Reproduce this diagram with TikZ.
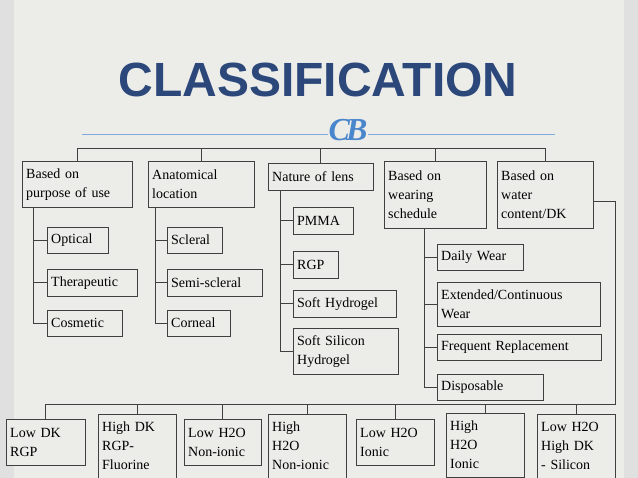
\documentclass[tikz,border=0pt]{standalone}
\usepackage{fontspec}
\setmainfont{Liberation Serif}
\newfontfamily\titlefont{Liberation Sans}
\usetikzlibrary{positioning}
\definecolor{slidebg}{RGB}{236,236,233}
\definecolor{titleblue}{RGB}{44,72,122}
\definecolor{ornblue}{RGB}{74,134,204}
\begin{document}
\begin{tikzpicture}[
    x=1pt, y=-1pt,
    box/.style={draw=black!75, fill=slidebg, anchor=north west, inner sep=4pt,
      align=left, font=\fontsize{14}{19}\selectfont},
    link/.style={draw=black!75, line width=0.9pt}
  ]
  \fill[slidebg] (0,0) rectangle (638,478);
  \fill[black!12] (0,0) rectangle (14,478);
  \fill[black!12] (624,0) rectangle (638,478);
  \useasboundingbox (0,0) rectangle (638,478);
  \clip (0,0) rectangle (638,478);

  % title and ornament
  \node[font=\titlefont\bfseries\fontsize{48}{52}\selectfont, text=titleblue] (title) at (318,80) {CLASSIFICATION};
  \draw[ornblue!70, line width=0.8pt] (82,134) -- (555,134);
  \node[fill=slidebg, text=ornblue, font=\itshape\bfseries\fontsize{32}{32}\selectfont, inner sep=1pt] (orn) at (348,130) {C\kern-4ptB};

  % top row
  \node[box, minimum width=110, minimum height=46, text width=102] (purpose) at (22,161) {Based on\\purpose of use};
  \node[box, minimum width=106, minimum height=46, text width=98] (anat) at (148,161) {Anatomical\\location};
  \node[box, minimum width=105, minimum height=27, text width=97] (nature) at (268,163) {Nature of lens};
  \node[box, minimum width=102, minimum height=67, text width=94] (wear) at (384,161) {Based on\\wearing\\schedule};
  \node[box, minimum width=96, minimum height=67, text width=88] (water) at (497,161) {Based on\\water\\content/DK};

  \coordinate (bus) at (0,148);
  \draw[link] (purpose.north |- bus) -- (water.north |- bus);
  \foreach \n in {purpose,anat,nature,wear,water}
    \draw[link] (\n.north) -- (\n.north |- bus);

  % purpose of use
  \node[box, minimum height=26, text width=53] (optical) at (47,227) {Optical};
  \node[box, minimum height=27, text width=82] (thera) at (47,269) {Therapeutic};
  \node[box, minimum height=26, text width=67] (cosm) at (47,310) {Cosmetic};
  \draw[link] ([xshift=11pt]purpose.south west) |- (cosm.west);
  \draw[link] (optical.west) -- ++(-14,0);
  \draw[link] (thera.west) -- ++(-14,0);

  % anatomical location
  \node[box, minimum height=26, text width=47] (scleral) at (167,227) {Scleral};
  \node[box, minimum height=27, text width=87] (semi) at (167,269) {Semi-scleral};
  \node[box, minimum height=26, text width=55] (corneal) at (167,310) {Corneal};
  \draw[link] ([xshift=7pt]anat.south west) |- (corneal.west);
  \draw[link] (scleral.west) -- ++(-12,0);
  \draw[link] (semi.west) -- ++(-12,0);

  % nature of lens
  \node[box, minimum height=27, text width=52] (pmma) at (293,207) {PMMA};
  \node[box, minimum height=27, text width=37] (rgp) at (293,251) {RGP};
  \node[box, minimum height=27, text width=95] (hydro) at (293,290) {Soft Hydrogel};
  \node[box, minimum height=46, text width=97] (silhydro) at (293,328) {Soft Silicon\\Hydrogel};
  \draw[link] ([xshift=12pt]nature.south west) |- (silhydro.west);
  \foreach \n in {pmma,rgp,hydro}
    \draw[link] (\n.west) -- ++(-13,0);

  % wearing schedule
  \node[box, minimum height=26, text width=78] (daily) at (437,244) {Daily Wear};
  \node[box, minimum height=44, text width=155] (ext) at (437,282) {Extended/Continuous\\Wear};
  \node[box, minimum height=26, text width=156] (freq) at (437,334) {Frequent Replacement};
  \node[box, minimum height=26, text width=98] (disp) at (437,374) {Disposable};
  \draw[link] ([xshift=40pt]wear.south west) |- (disp.west);
  \foreach \n in {daily,ext,freq}
    \draw[link] (\n.west) -- ++(-13,0);

  % water content / DK
  \node[box, minimum height=46, text width=71] (lowdk) at (6,419) {Low DK\\RGP};
  \node[box, minimum height=64, text width=70] (highdk) at (98,414) {High DK\\RGP-\\Fluorine};
  \node[box, minimum height=46, text width=69] (lownon) at (184,419) {Low H2O\\Non-ionic};
  \node[box, minimum height=64, text width=70] (highnon) at (268,414) {High\\H2O\\Non-ionic};
  \node[box, minimum height=46, text width=70] (lowion) at (356,419) {Low H2O\\Ionic};
  \node[box, minimum height=64, text width=70] (highion) at (446,413) {High\\H2O\\Ionic};
  \node[box, minimum height=64, text width=70] (silicon) at (537,414) {Low H2O\\High DK\\- Silicon};

  \coordinate (lowbus) at (615,404);
  \draw[link] ([yshift=-7pt]water.east) -| (lowbus) -| (lowdk.north);
  \foreach \n in {highdk,lownon,highnon,lowion,highion,silicon}
    \draw[link] (\n.north) -- (\n.north |- lowbus);
\end{tikzpicture}
\end{document}
